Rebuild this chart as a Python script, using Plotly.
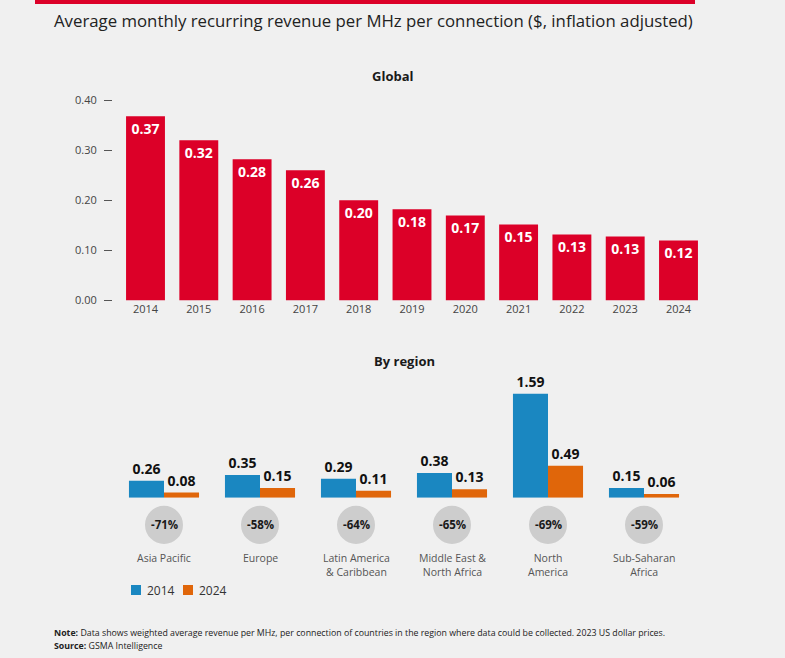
import plotly.graph_objects as go

W, H = 785, 658

# ---------------- data ----------------
years = ["2014", "2015", "2016", "2017", "2018", "2019", "2020", "2021", "2022", "2023", "2024"]
global_values = [0.368, 0.32, 0.282, 0.26, 0.20, 0.182, 0.17, 0.152, 0.132, 0.128, 0.12]

regions = ["Asia Pacific", "Europe", "Latin America<br>& Caribbean", "Middle East &<br>North Africa",
           "North<br>America", "Sub-Saharan<br>Africa"]
series_names = ["2014", "2024"]
values_2014 = [0.26, 0.35, 0.29, 0.38, 1.59, 0.15]
values_2024 = [0.08, 0.15, 0.11, 0.13, 0.49, 0.06]
pct_change = ["-71%", "-58%", "-64%", "-65%", "-69%", "-59%"]

title_text = "Average monthly recurring revenue per MHz per connection ($, inflation adjusted)"
note_text = ("<b>Note:</b> Data shows weighted average revenue per MHz, per connection of countries in the "
             "region where data could be collected. 2023 US dollar prices.")
source_text = "<b>Source:</b> GSMA Intelligence"

# ---------------- styles ----------------
BG = "#f0f0f0"
RED = "#dc0028"
BLUE = "#1a87c1"
ORANGE = "#e0660a"
CIRCLE = "#cdcdcd"
FONT = "Open Sans"
KY = 1.0125  # vertical position factor


def px(x):
    return x / W


def py(y):
    return 1 - (y * KY) / H


fig = go.Figure()

fig.add_trace(go.Bar(
    x=years, y=global_values, marker=dict(color=RED, line=dict(width=0)),
    texttemplate="%{y:.2f}", textposition="inside", insidetextanchor="end",
    textfont=dict(color="white", size=14, family=FONT, weight="bold"),
    constraintext="none", showlegend=False, xaxis="x", yaxis="y", hoverinfo="skip",
))

series_colors = [BLUE, ORANGE]
for name, vals, col in zip(series_names, [values_2014, values_2024], series_colors):
    fig.add_trace(go.Bar(
        x=regions, y=vals, name=name, marker=dict(color=col, line=dict(width=0)),
        texttemplate="%{y:.2f}", textposition="outside",
        textfont=dict(color="#111111", size=14, family=FONT, weight="bold"),
        constraintext="none", cliponaxis=False, xaxis="x2", yaxis="y2", showlegend=False,
    ))

# axis geometry
gx0, gx1 = 113, 705
g_pitch = 53.3
g_first = 145.5
g_range = [-(g_first - gx0) / g_pitch, (gx1 - g_first) / g_pitch]
g_y0, g_scale = 300, 500.0  # px for zero, px per unit
g_top = 0.42

rx0, rx1 = 116, 692
r_y0, r_scale = 497, 65.4
r_top = 1.75

fig.update_layout(
    width=W, height=H, margin=dict(l=0, r=0, t=0, b=0),
    paper_bgcolor=BG, plot_bgcolor=BG,
    font=dict(family=FONT, color="#333333"),
    bargap=0.27, bargroupgap=0, barmode="group", showlegend=False,
    xaxis=dict(domain=[px(gx0), px(gx1)], range=g_range, anchor="y",
               showgrid=False, zeroline=False, showline=False, ticks="",
               tickfont=dict(size=11, color="#444444"), fixedrange=True),
    yaxis=dict(domain=[py(g_y0), py(g_y0 - g_top * g_scale)], range=[0, g_top], anchor="x",
               showgrid=False, zeroline=False, showline=False,
               ticks="outside", ticklen=8, tickwidth=1.2, tickcolor="#555555",
               ticklabelstandoff=5,
               tickvals=[0, 0.1, 0.2, 0.3, 0.4], tickformat=".2f",
               tickfont=dict(size=11, color="#444444"), fixedrange=True),
    xaxis2=dict(domain=[px(rx0), px(rx1)], anchor="y2", showgrid=False, zeroline=False,
                showline=False, ticks="", showticklabels=False, fixedrange=True),
    yaxis2=dict(domain=[py(r_y0), py(r_y0 - r_top * r_scale)], range=[0, r_top], anchor="x2",
                visible=False, fixedrange=True),
)

shapes = [dict(type="rect", xref="paper", yref="paper", x0=px(35), x1=px(695), y0=py(4), y1=1,
               fillcolor=RED, line=dict(width=0), layer="below")]
annotations = [
    dict(text=title_text, x=px(52), y=py(20), xref="paper", yref="paper", xanchor="left",
         yanchor="middle", showarrow=False, font=dict(size=16.8, color="#222222", family=FONT)),
    dict(text="<b>Global</b>", x=px(392), y=py(76), xref="paper", yref="paper", showarrow=False,
         xanchor="center", yanchor="middle", font=dict(size=13, color="#1a1a1a", family=FONT)),
    dict(text="<b>By region</b>", x=px(404), y=py(360), xref="paper", yref="paper", showarrow=False,
         xanchor="center", yanchor="middle", font=dict(size=13, color="#1a1a1a", family=FONT)),
    dict(text=note_text, x=px(52), y=py(632), xref="paper", yref="paper", xanchor="left",
         yanchor="middle", showarrow=False, font=dict(size=8.8, color="#222222", family=FONT)),
    dict(text=source_text, x=px(52), y=py(645), xref="paper", yref="paper", xanchor="left",
         yanchor="middle", showarrow=False, font=dict(size=8.8, color="#222222", family=FONT)),
]

# manual legend
legend_x = [131, 183]
for lx, name, col in zip(legend_x, series_names, series_colors):
    shapes.append(dict(type="rect", xref="paper", yref="paper", x0=px(lx), x1=px(lx + 10),
                       y0=py(594), y1=py(584), fillcolor=col, line=dict(width=0)))
    annotations.append(dict(text=name, x=px(lx + 14), y=py(589), xref="paper", yref="paper",
                            xanchor="left", yanchor="middle", showarrow=False,
                            font=dict(size=12, color="#333333", family=FONT)))

r_pitch = (rx1 - rx0) / len(regions)
circ_r = 19
for i, (reg, pc) in enumerate(zip(regions, pct_change)):
    dx = circ_r / r_pitch
    shapes.append(dict(type="circle", xref="x2", yref="paper", x0=i - dx, x1=i + dx,
                       y0=py(524 + circ_r), y1=py(524 - circ_r), fillcolor=CIRCLE,
                       line=dict(width=0)))
    annotations.append(dict(text=f"<b>{pc}</b>", x=i, y=py(524), xref="x2", yref="paper",
                            xanchor="center", yanchor="middle", showarrow=False,
                            font=dict(size=11.5, color="#1a1a1a", family=FONT)))
    annotations.append(dict(text=reg, x=i, y=py(548), xref="x2", yref="paper",
                            xanchor="center", yanchor="top",
                            showarrow=False, font=dict(size=10.5, color="#555555", family=FONT)))

fig.update_layout(shapes=shapes, annotations=annotations)

fig.write_html("out.html")
